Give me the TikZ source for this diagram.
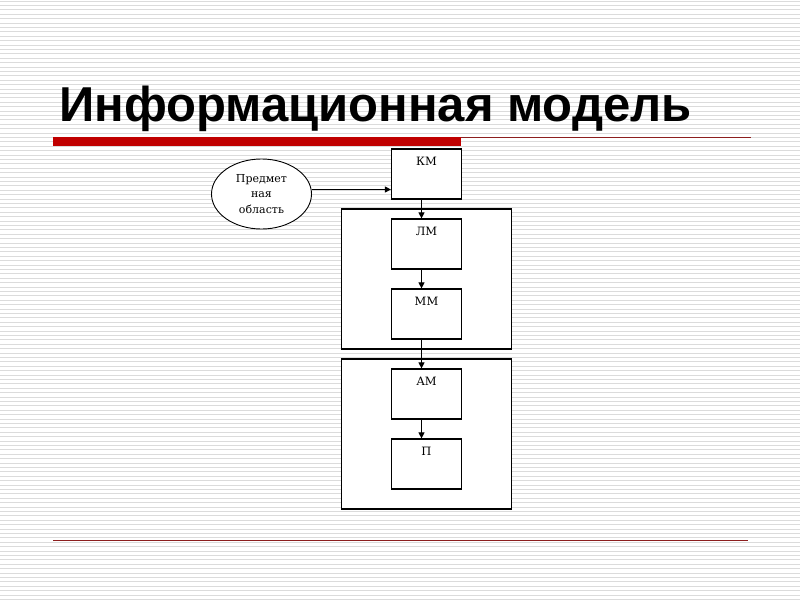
\documentclass[tikz,border=0pt]{standalone}
\usepackage{fontspec}
\setmainfont{DejaVu Serif}
\newfontfamily\titlefont{Liberation Sans}
\usetikzlibrary{arrows.meta}
\usetikzlibrary{shapes.geometric}
\definecolor{barred}{RGB}{192,0,0}
\definecolor{linered}{RGB}{140,30,30}
\tikzset{x=1pt, y=-1pt,
stripe/.style={ % background lines
draw=black!14,
line width=1pt},
block/.style={ % small model boxes
draw,
fill=white,
line width=1.2pt,
minimum width=70pt,
minimum height=50pt},
frame/.style={ % large grouping boxes
draw,
fill=white,
line width=1.2pt,
minimum width=170pt},
lbl/.style={ % box captions
anchor=north,
inner sep=0pt,
yshift=-9pt,
font=\fontsize{11.5}{13}\selectfont},
link/.style={ % connectors
-{Triangle[length=6pt,width=6pt]},
line width=1pt}}

\begin{document}
\begin{tikzpicture}
\useasboundingbox (0,0) rectangle (800,600);
\fill[white] (0,0) rectangle (800,600);
\foreach \y in {1,5.4,...,600}
  \draw[stripe] (0,\y) -- (800,\y);
% title and rules
\node[anchor=base west, inner sep=0pt, font=\titlefont\bfseries\fontsize{49}{53}\selectfont] (title) at (59,121) {Информационная модель};
\fill[barred] (53,137) rectangle (461,146);
\draw[linered, line width=1pt] (461,137.5) -- (751,137.5);
\draw[linered, line width=1pt] (53,540) -- (748,540);
% frames
\node[frame, minimum height=140pt] (upper) at (426.5,279) {};
\node[frame, minimum height=150pt] (lower) at (426.5,434) {};
% subject area
\node[ellipse, draw, fill=white, line width=0.9pt, minimum width=100pt, minimum height=70pt, inner sep=0pt, align=center, font=\fontsize{11}{15.5}\selectfont] (subj) at (261.5,194) {Предмет\\ная\\область};
% models
\node[block, label={[lbl]north:КМ}] (km) at (426.5,174) {};
\node[block, label={[lbl]north:ЛМ}] (lm) at (426.5,244) {};
\node[block, label={[lbl]north:ММ}] (mm) at (426.5,314) {};
\node[block, label={[lbl]north:АМ}] (am) at (426.5,394) {};
\node[block, label={[lbl]north:П}] (p) at (426.5,464) {};
\draw[link] ([yshift=4.5pt]subj.east) -- ([yshift=-15.5pt]km.west);
\draw[link] ([xshift=-5pt]km.south) -- ([xshift=-5pt]lm.north);
\draw[link] ([xshift=-5pt]lm.south) -- ([xshift=-5pt]mm.north);
\draw[link] ([xshift=-5pt]mm.south) -- ([xshift=-5pt]am.north);
\draw[link] ([xshift=-5pt]am.south) -- ([xshift=-5pt]p.north);
\end{tikzpicture}
\end{document}
